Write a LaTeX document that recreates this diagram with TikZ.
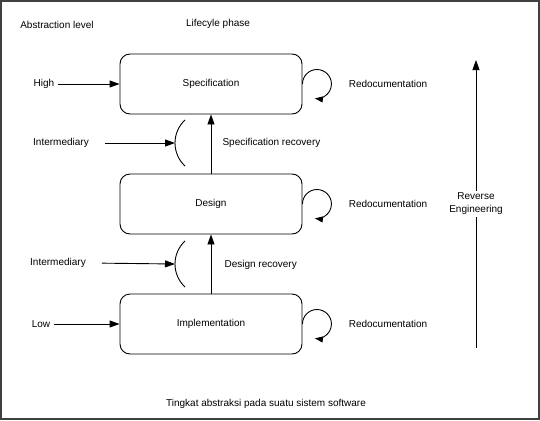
\documentclass[tikz,border=0pt]{standalone}
\usepackage{fontspec}
\setmainfont{Liberation Sans}
\usetikzlibrary{arrows.meta}

\begin{document}
\begin{tikzpicture}[x=1pt, y=-1pt, font=\fontsize{10}{13}\selectfont,
  Phase/.style={draw, line width=0.9pt, minimum width=182pt, minimum height=60pt, rounded corners=10pt},
  Connection/.style={-{Triangle[length=10pt, width=7pt]}, line width=0.9pt},
  Gate/.style={line width=0.9pt}]

\useasboundingbox (0,0) rectangle (540,420);
\draw [black!75, line width=1.5pt] (1,1) rectangle (539,419);

\node (abstraction) at (57,25) {Abstraction level};
\node (lifecycle) at (218,24) {Lifecyle phase};

\foreach \ypos/\name/\text in {84/spec/Specification, 204/design/Design, 324/impl/Implementation} {
  \node [Phase] (\name) at (211,\ypos) {\text};
  \draw [Connection, -{Triangle[length=8pt, width=6pt]}] (\name.east) arc [start angle=180, end angle=458, radius=14.5];
  \node (\name-redoc) at (388,\ypos) {Redocumentation};
}

\node (high) at (44,84) {High};
\node (low) at (41,324) {Low};
\node (inter1) at (61,143) {Intermediary};
\node (inter2) at (58,263) {Intermediary};

\draw [Connection] (high) -- (spec);
\draw [Connection] (low) -- (impl);

\foreach \n/\ypos in {1/143, 2/264} {
  \coordinate (gate\n) at (175,\ypos);
  \draw [Gate] (gate\n) arc [start angle=180, end angle=133, radius=31.5];
  \draw [Gate] (gate\n) arc [start angle=180, end angle=227, radius=31.5];
  \draw [Connection, shorten <=12.5pt] (inter\n.east) -- (gate\n);
}

\draw [Connection] (design) -- (spec);
\draw [Connection] (impl) -- (design);

\node [anchor=west] (specrec) at (219,143) {Specification recovery};
\node [anchor=west] (designrec) at (221,265) {Design recovery};

\coordinate (revbottom) at (476,348);
\coordinate (revtop) at (476,60);
\draw [Connection] (revbottom) -- node [fill=white, align=center, inner sep=2pt] (reverse) {Reverse\\Engineering} (revtop);

\node (caption) at (266,404) {Tingkat abstraksi pada suatu sistem software};
\end{tikzpicture}
\end{document}
